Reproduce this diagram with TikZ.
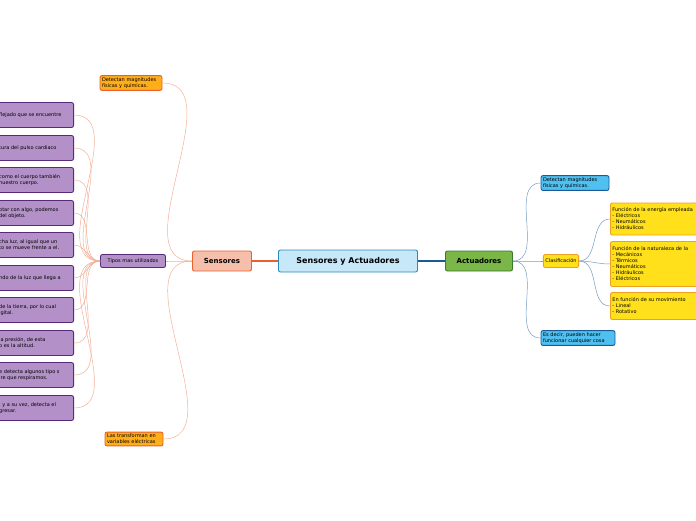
\documentclass[tikz,border=0pt]{standalone}
\usepackage{fontspec}
\setmainfont{DejaVu Sans}
\begin{document}
\begin{tikzpicture}[x=1pt,y=-1pt,
 box/.style={draw,rounded corners=2pt,line width=0.9pt,inner sep=2pt,font=\fontsize{5}{6}\selectfont,align=left},
 purp/.style={box,fill=purpfill,draw=purpline,minimum height=25pt},
 org/.style={box,fill=orgfill,draw=orgline,text width=58pt},
 blu/.style={box,fill=blufill,draw=bluline},
 yel/.style={box,fill=yelfill,draw=yelline},
 ol/.style={draw=orgline!50,line width=0.5pt},
 bl/.style={draw=bluline!60,line width=0.5pt}]
\definecolor{purpfill}{HTML}{B391C8}\definecolor{purpline}{HTML}{5A2A7A}
\definecolor{orgfill}{HTML}{FFAE1A}\definecolor{orgline}{HTML}{E8602C}
\definecolor{blufill}{HTML}{4FC0F0}\definecolor{bluline}{HTML}{1A5A98}
\definecolor{yelfill}{HTML}{FFE01A}\definecolor{yelline}{HTML}{F0A020}
\definecolor{cfill}{HTML}{C6E8F8}\definecolor{cline}{HTML}{2A8AC0}
\definecolor{gfill}{HTML}{7AB648}\definecolor{gline}{HTML}{3A7A2A}
\useasboundingbox (0,0) rectangle (696,520);
\clip (0,0) rectangle (696,520);
\node[box,fill=cfill,draw=cline,minimum width=139pt,minimum height=22pt,font=\fontsize{8}{9}\bfseries] (c) at (348,261) {Sensores y Actuadores};
\node[box,fill=orgline!40,draw=orgline,minimum width=59pt,minimum height=20pt,font=\fontsize{7}{8}\bfseries] (s) at (222,261) {Sensores};
\node[box,fill=gfill,draw=gline,minimum width=67pt,minimum height=20pt,font=\fontsize{7}{8}\bfseries] (a) at (479,261) {Actuadores};
\draw[orgline,line width=1.2pt] (c.west) -- (s.east);
\draw[bluline,line width=1.2pt] (c.east) -- (a.west);
\node[box,fill=purpfill,draw=purpline,minimum width=65pt,minimum height=13pt,align=center] (t) at (133,261) {Tipos mas utilizados};
\node[org] (d1) at (131,83) {Detectan magnitudes\\físicas y químicas.};
\node[org,text width=54pt] (d2) at (134,439) {Las transforman en\\variables eléctricas};
\draw[ol] (s.west) to[out=180,in=0] (t.east);
\draw[ol] (s.west) to[out=180,in=0] (d1.east);
\draw[ol] (s.west) to[out=180,in=0] (d2.east);
\foreach \i/\y/\txt in {1/115/{flejado que se encuentre},2/148/{tura del pulso cardiaco},3/180/{como el cuerpo también\\nuestro cuerpo.},4/213/{otar con algo, podemos\\del objeto.},5/245/{cha luz, al igual que un\\to se mueve frente a el.},6/278/{ndo de la luz que llega a},7/310/{de la tierra, por lo cual\\igital.},8/343/{la presión, de esta\\o es la altitud.},9/375/{e detecta algunos tipo s\\ire que respiramos.},10/408/{, y a su vez, detecta el\\gresar.}}{
 \node[purp,minimum width=84pt,anchor=east] (p\i) at (74,\y) {};
 \node[font=\fontsize{5}{6}\selectfont,align=left,anchor=west,inner sep=0pt] at (-1,\y) {\txt};
 \draw[ol] (t.west) to[out=180,in=0] (p\i.east);
}
\node[blu,text width=64pt] (r1) at (575,183) {Detectan magnitudes\\físicas y químicas.};
\node[yel,minimum height=13pt] (cl) at (561,261) {Clasificación};
\node[blu,text width=70pt] (r3) at (578,338) {Es decir, pueden hacer\\funcionar cualquier cosa};
\node[yel,text width=95pt,anchor=west,minimum height=32pt] (y1) at (610,219) {Función de la energía empleada\\- Eléctricos\\- Neumáticos\\- Hidráulicos};
\node[yel,text width=95pt,anchor=west,minimum height=45pt] (y2) at (610,264) {Función de la naturaleza de la\\- Mecánicos\\- Térmicos\\- Neumáticos\\- Hidráulicos\\- Eléctricos};
\node[yel,text width=95pt,anchor=west,minimum height=27pt] (y3) at (610,306) {En función de su movimiento\\- Lineal\\- Rotativo};
\foreach \n in {r1,cl,r3} \draw[bl] (a.east) to[out=0,in=180] (\n.west);
\foreach \n in {y1,y2,y3} \draw[bl] (cl.east) to[out=0,in=180] (\n.west);
\end{tikzpicture}
\end{document}
